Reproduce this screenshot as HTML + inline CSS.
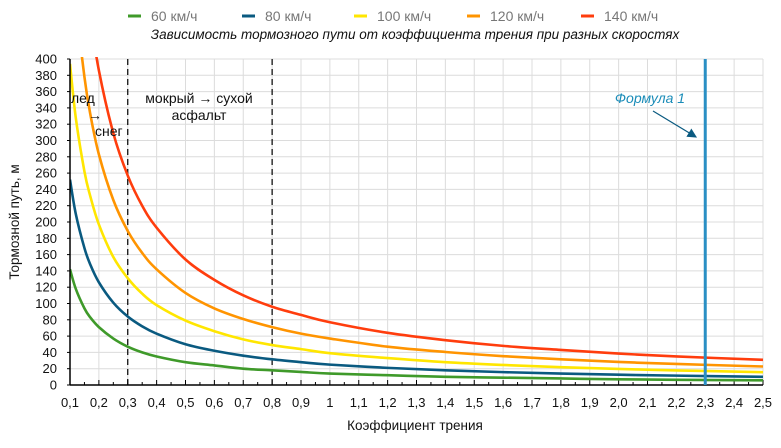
<!DOCTYPE html>
<html><head><meta charset="utf-8"><style>
body{margin:0;background:#fff;}
svg{display:block;font-family:"Liberation Sans",Arial,sans-serif;}
</style></head><body>
<svg id="chart" width="781" height="448"></svg>
<script>
const xValues=[0.1,0.12,0.15,0.17,0.2,0.25,0.3,0.35,0.4,0.5,0.6,0.7,0.8,0.9,1.0,1.2,1.4,1.6,1.8,2.0,2.2,2.5];
const s60=[142,118,94,83,71,57,47,40,35,28,24,20,18,16,14,12,10,9,8,7,6.4,5.7];
const s80=[252,210,168,148,126,101,84,72,63,50,42,36,31.5,28,25,21,18,15.8,14,12.6,11.5,10.1];
const s100=[394,328,262,232,197,157,131,112,98,79,66,56,49,44,39,33,28,24.6,21.9,19.7,17.9,15.7];
const s120=[567,472,378,333,283,227,189,162,142,113,94,81,71,63,57,47,40.5,35.4,31.5,28.3,25.8,22.7];
const s140=[772,643,514,454,386,309,257,220,193,154,129,110,96,86,77,64,55,48,43,38.6,35,30.9];
const seriesNames=["60 км/ч","80 км/ч","100 км/ч","120 км/ч","140 км/ч"];
const seriesColors=["#3f9a2a","#0a5a80","#ffe600","#ff9400","#ff3d0d"];
const xTicks=["0,1","0,2","0,3","0,4","0,5","0,6","0,7","0,8","0,9","1","1,1","1,2","1,3","1,4","1,5","1,6","1,7","1,8","1,9","2,0","2,1","2,2","2,3","2,4","2,5"];
const yTicks=[0,20,40,60,80,100,120,140,160,180,200,220,240,260,280,300,320,340,360,380,400];
const formulaX=2.3;
const dashedX=[0.3,0.8];

const NS="http://www.w3.org/2000/svg";
const svg=document.getElementById('chart');
const L=70,R=763,T=59,B=385;
const sx=v=>L+(v-0.1)/2.4*(R-L);
const sy=v=>B-v/400*(B-T);
function mk(tag,attrs,parent){const e=document.createElementNS(NS,tag);for(const k in attrs)e.setAttribute(k,attrs[k]);(parent||svg).appendChild(e);return e;}

const defs=mk('defs',{});
const cp=mk('clipPath',{id:'clip'},defs);mk('rect',{x:L,y:T-2,width:R-L+4,height:B-T+2},cp);
const mar=mk('marker',{id:'arr',markerWidth:8,markerHeight:8,refX:7,refY:4,orient:'auto'},defs);
mk('path',{d:'M0,0 L8,4 L0,8 z',fill:'#0a5a80'},mar);

const grid=mk('g',{});


xTicks.forEach((t,i)=>{const x=sx(0.1+i*0.1);mk('line',{x1:x,x2:x,y1:T,y2:B,stroke:'#dcdcdc','stroke-width':1},grid);});
yTicks.forEach(v=>{mk('line',{x1:L,x2:R,y1:sy(v),y2:sy(v),stroke:'#dcdcdc','stroke-width':1},grid);});

yTicks.forEach(v=>{const t=mk('text',{x:57,y:sy(v)+4.5,'text-anchor':'end','font-size':13,fill:'#111'});t.textContent=v;


mk('line',{x1:L-3,x2:L,y1:sy(v),y2:sy(v),stroke:'#000'});});
xTicks.forEach((s,i)=>{const x=sx(0.1+i*0.1);const t=mk('text',{x:x,y:407,'text-anchor':'middle','font-size':13,fill:'#111'});t.textContent=s;


mk('line',{x1:x,x2:x,y1:B,y2:B-5,stroke:'#000'});
if(i<xTicks.length-1)mk('line',{x1:x+(sx(0.2)-sx(0.1))/2,x2:x+(sx(0.2)-sx(0.1))/2,y1:B,y2:B-3,stroke:'#000'});});

dashedX.forEach(v=>{const l=mk('line',{x1:sx(v),x2:sx(v),y1:T,y2:B,stroke:'#000','stroke-width':1.2,'stroke-dasharray':'6,4'});

});

function path(vals){const p=xValues.map((x,i)=>[sx(x),sy(vals[i])]);let d='M'+p[0][0]+','+p[0][1];
for(let i=0;i<p.length-1;i++){const p0=p[Math.max(0,i-1)],p1=p[i],p2=p[i+1],p3=p[Math.min(p.length-1,i+2)];
const c1=[p1[0]+(p2[0]-p0[0])/6,p1[1]+(p2[1]-p0[1])/6],c2=[p2[0]-(p3[0]-p1[0])/6,p2[1]-(p3[1]-p1[1])/6];
d+=' C'+c1+' '+c2+' '+p2;}return d;}
[s60,s80,s100,s120,s140].forEach((vals,i)=>{const e=mk('path',{d:path(vals),fill:'none',stroke:seriesColors[i],'stroke-width':2.6,'clip-path':'url(#clip)'});

});

mk('line',{x1:L,x2:L,y1:T,y2:B,stroke:'#000','stroke-width':1.5});
mk('line',{x1:L,x2:R,y1:B,y2:B,stroke:'#000','stroke-width':1.5});

const fl=mk('line',{x1:sx(formulaX),x2:sx(formulaX),y1:T,y2:B,stroke:'#2a8fc4','stroke-width':3});


const ar=mk('line',{x1:653,y1:111,x2:696,y2:137,stroke:'#0a5a80','stroke-width':1.2,'marker-end':'url(#arr)'});


const ft=mk('text',{x:650,y:103,'text-anchor':'middle','font-size':14,'font-style':'italic',fill:'#1a8cb8'});ft.textContent='Формула 1';



function txt(x,y,s,name,o){const t=mk('text',Object.assign({x:x,y:y,'font-size':14,fill:'#111'},o||{}));t.textContent=s;

return t;}
txt(71,103,'лед','ice-label');
txt(88,120,'→','ice-arrow-label',{'font-size':14});
txt(95,136,'снег','snow-label');
txt(199,103,'мокрый → сухой','wet-dry-label',{'text-anchor':'middle'});
txt(199,120,'асфальт','asphalt-label',{'text-anchor':'middle'});

txt(415,39,'Зависимость тормозного пути от коэффициента трения при разных скоростях','chart-title',{'text-anchor':'middle','font-style':'italic','font-size':13.5});
txt(415,430,'Коэффициент трения','x-axis-title',{'text-anchor':'middle','font-size':13.5});
txt(0,0,'Тормозной путь, м','y-axis-title',{'text-anchor':'middle','font-size':13.5,transform:'translate(19,222) rotate(-90)'});

const legX=[128,242,354,467,581];
seriesNames.forEach((n,i)=>{const g=mk('g',{});


mk('line',{x1:legX[i],x2:legX[i]+13,y1:16,y2:16,stroke:seriesColors[i],'stroke-width':3},g);
const t=mk('text',{x:legX[i]+23,y:21,'font-size':14,fill:'#777'},g);t.textContent=n;});
</script>
</body></html>
